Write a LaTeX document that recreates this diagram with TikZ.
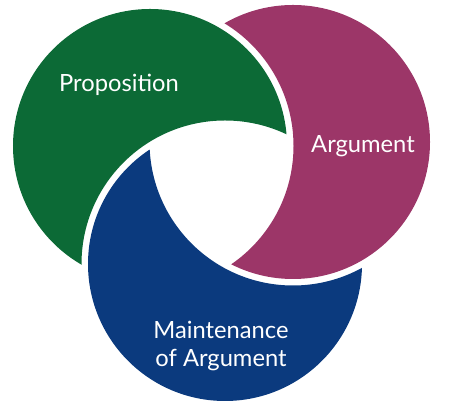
\documentclass[tikz,border=0pt]{standalone}
\usepackage{fontspec}
\setmainfont{Lato}
\definecolor{propgreen}{HTML}{0C6A36}
\definecolor{argmagenta}{HTML}{9C3668}
\definecolor{maintblue}{HTML}{0B3A7E}
\tikzset{
    ringtext/.style={text=white, font=\fontsize{13.5}{16}\selectfont, align=center},
}
\begin{document}
\begin{tikzpicture}
    \useasboundingbox (0,0) rectangle (8.98,8.12);
    \coordinate (g) at (3.0,5.2);
    \coordinate (b) at (4.5,2.84);
    \coordinate (m) at (5.86,5.28);
    % each ring is its circle minus the next one, plus a white gap
    \begin{scope}
        \clip (g) circle (2.74);
        \fill[propgreen, even odd rule] (-1,-1) rectangle (10,10) (b) circle (2.87);
    \end{scope}
    \begin{scope}
        \clip (b) circle (2.74);
        \fill[maintblue, even odd rule] (-1,-1) rectangle (10,10) (m) circle (2.87);
    \end{scope}
    \begin{scope}
        \clip (m) circle (2.74);
        \fill[argmagenta, even odd rule] (-1,-1) rectangle (10,10) (g) circle (2.87);
    \end{scope}
    \node[ringtext] (prop) at (2.38,6.42) {Proposition};
    \node[ringtext] (arg) at (7.26,5.2) {Argument};
    \node[ringtext] (maint) at (4.42,1.2) {Maintenance\\of Argument};
\end{tikzpicture}
\end{document}
